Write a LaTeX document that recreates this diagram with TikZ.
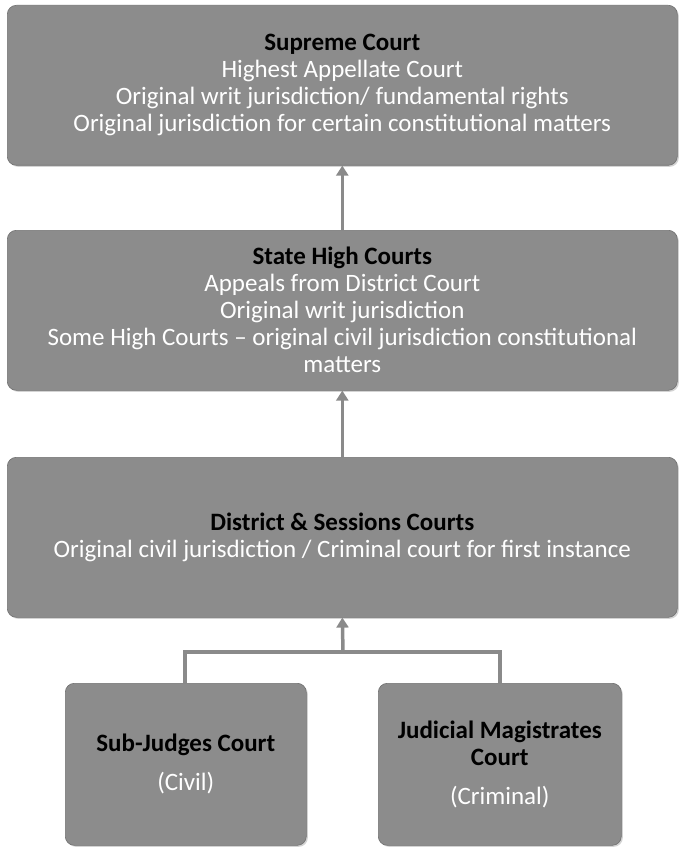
\documentclass[tikz,border=0pt]{standalone}
\usepackage{fontspec}
\setmainfont{Carlito}
\usetikzlibrary{arrows.meta,shadows}
\definecolor{boxfill}{HTML}{8C8C8C}
\definecolor{linec}{HTML}{8A8A8A}
\newcommand{\hd}[1]{\textcolor{black}{\textbf{#1}}}
\tikzset{
 courtbox/.style={draw=boxfill!80!black,line width=0.6pt,fill=boxfill,rounded corners=9pt,text=white,align=center,font=\fontsize{25}{27}\selectfont,drop shadow={opacity=0.35,shadow xshift=1.5pt,shadow yshift=-1.5pt},anchor=north west,inner sep=0pt},
 conn/.style={draw=linec,line width=3.5pt,-{Triangle[length=10pt,width=12pt]}},
 plain/.style={draw=linec,line width=3.5pt}
}
\begin{document}
\begin{tikzpicture}[x=1pt,y=-1pt]
\useasboundingbox (0,0) rectangle (685,853);
\node[courtbox,minimum width=670pt,minimum height=160pt] (sc) at (7,5) {\hd{Supreme Court}\\Highest Appellate Court\\Original writ jurisdiction/ fundamental rights\\Original jurisdiction for certain constitutional matters};
\node[courtbox,minimum width=670pt,minimum height=160pt] (hc) at (7,230) {\hd{State High Courts}\\Appeals from District Court\\Original writ jurisdiction\\Some High Courts -- original civil jurisdiction constitutional\\matters};
\node[courtbox,minimum width=670pt,minimum height=160pt] (dc) at (7,457) {\hd{District \& Sessions Courts}\\Original civil jurisdiction / Criminal court for first instance};
\node[courtbox,minimum width=241pt,minimum height=162pt] (sj) at (65,683) {\hd{Sub-Judges Court}\\[12pt](Civil)};
\node[courtbox,minimum width=243pt,minimum height=162pt] (jm) at (378,683) {\hd{Judicial Magistrates}\\\hd{Court}\\[12pt](Criminal)};
\coordinate (j) at (343,652);
\draw[conn] (hc.north) -- (sc.south);
\draw[conn] (dc.north) -- (hc.south);
\draw[plain] (sj.north -| 185,0) |- (j) -| (jm.north -| 500,0);
\draw[conn] (j) -- (dc.south);
\end{tikzpicture}
\end{document}
